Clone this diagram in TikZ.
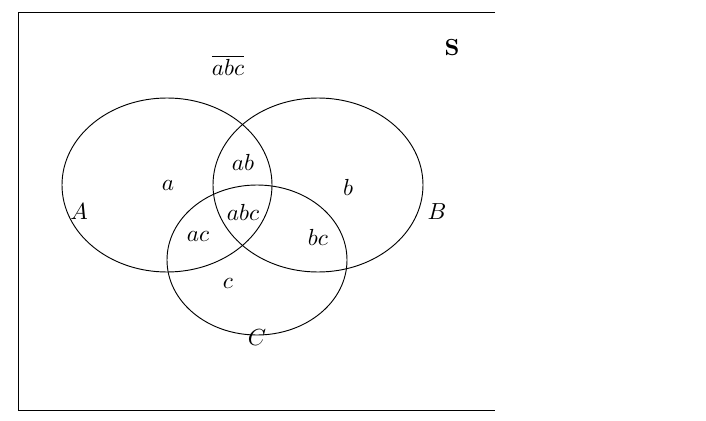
\documentclass[tikz,border=0pt]{standalone}
\begin{document}
\begin{tikzpicture}[x=0.43pt,y=-0.43pt,lbl/.style={inner sep=0pt}]
\useasboundingbox (0,0) rectangle (706,421);
\draw (495,12) -- (18,12) -- (18,410) -- (495,410);
\draw (167,185) ellipse [x radius=105,y radius=87];
\draw (318,185) ellipse [x radius=105,y radius=87];
\draw (257,260) ellipse [x radius=90,y radius=75];
\node[lbl] (nabc) at (228,65) {$\overline{abc}$};
\node[lbl] (S) at (452,48) {$\mathbf{S}$};
\node[lbl] (a) at (168,185) {$a$};
\node[lbl] (ab) at (243,162) {$ab$};
\node[lbl] (b) at (348,187) {$b$};
\node[lbl] (A) at (79,212) {$A$};
\node[lbl] (abc) at (243,212) {$abc$};
\node[lbl] (B) at (437,212) {$B$};
\node[lbl] (ac) at (198,236) {$ac$};
\node[lbl] (bc) at (318,237) {$bc$};
\node[lbl] (c) at (228,283) {$c$};
\node[lbl] (C) at (257,338) {$C$};
\end{tikzpicture}
\end{document}
